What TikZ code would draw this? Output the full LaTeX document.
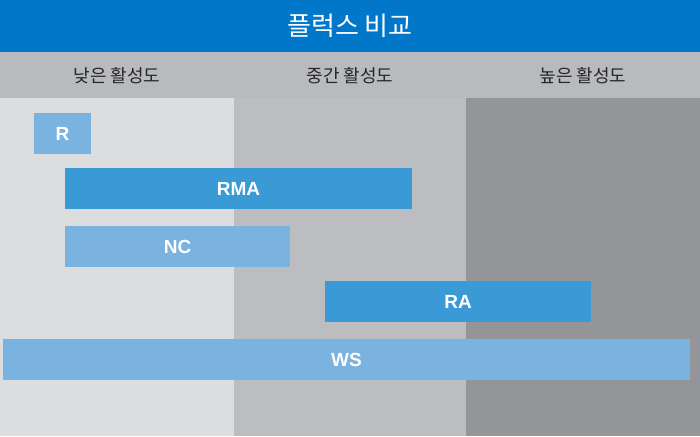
\documentclass[tikz,border=0pt]{standalone}
\usepackage{fontspec}
\setmainfont{Liberation Sans}
\newfontfamily\kor{Noto Sans CJK KR}
\definecolor{titleblue}{HTML}{0077C8}
\definecolor{headgray}{HTML}{B8BABD}
\definecolor{lowgray}{HTML}{DCDDDF}
\definecolor{midgray}{HTML}{BCBDC0}
\definecolor{highgray}{HTML}{939598}
\definecolor{barlight}{HTML}{7AB3E0}
\definecolor{bardark}{HTML}{3A9AD6}
\tikzset{
  colhead/.style={font=\kor\fontsize{18}{20}\selectfont, text=black!85},
  fluxbar/.style={fill=#1, draw=none},
  barlabel/.style={font=\bfseries\fontsize{19}{21}\selectfont, text=white}
}
\begin{document}
\begin{tikzpicture}[x=1pt, y=-1pt]
  \useasboundingbox (0,0) rectangle (700,436);
  % background
  \fill[lowgray] (0,98) rectangle (234,436);
  \fill[midgray] (234,98) rectangle (466,436);
  \fill[highgray] (466,98) rectangle (700,436);
  \fill[headgray] (0,52) rectangle (700,98);
  \fill[titleblue] (0,0) rectangle (700,52);
  \node[font=\kor\fontsize{26}{28}\selectfont, text=white] (title) at (350,26) {플럭스 비교};
  % column heads
  \node[colhead] (low) at (117,76) {낮은 활성도};
  \node[colhead] (mid) at (350,76) {중간 활성도};
  \node[colhead] (high) at (583,76) {높은 활성도};
  % bars
  \foreach \name/\xa/\xb/\ya/\col in {R/34/91/113/barlight, RMA/65/412/168/bardark,
      NC/65/290/226/barlight, RA/325/591/281/bardark, WS/3/690/339/barlight}{
    \fill[fluxbar=\col] (\xa,\ya) rectangle (\xb,\ya+41);
    \node[barlabel] (bar\name) at ({(\xa+\xb)/2},\ya+20.5) {\name};
  }
\end{tikzpicture}
\end{document}
